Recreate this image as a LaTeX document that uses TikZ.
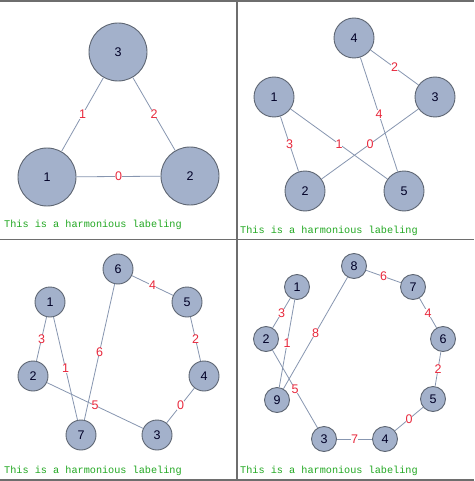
\documentclass[tikz,border=0pt]{standalone}
\usepackage{fontspec}
\setmainfont{Liberation Sans}
\newfontfamily\monof{Liberation Mono}
\definecolor{nodefill}{HTML}{A3B1CB}
\definecolor{nodeborder}{HTML}{5E6673}
\definecolor{edgecol}{HTML}{8796B0}
\definecolor{labred}{HTML}{E8283C}
\definecolor{txtgreen}{HTML}{22A822}
\definecolor{bordergray}{HTML}{6E6E6E}
\begin{document}
\begin{tikzpicture}[x=1pt,y=-1pt,
  vtx/.style={circle, draw=nodeborder, line width=0.9pt, fill=nodefill, minimum size=#1, inner sep=0pt, text=black!85!blue, font=\fontsize{12.5}{12.5}\selectfont},
  edgeline/.style={draw=edgecol, line width=0.8pt},
  elab/.style={midway, fill=white, inner sep=0pt, text=labred, font=\fontsize{12.5}{12.5}\selectfont},
  caption/.style={anchor=west, inner sep=0pt, text=txtgreen, font=\monof\fontsize{10.2}{10.2}\selectfont},
  divider/.style={draw=bordergray, line width=1.5pt}]
\useasboundingbox (0,0) rectangle (474,481);
\fill[white] (0,0) rectangle (474,481);
% frame
\fill[bordergray] (0,0) rectangle (474,2.2);
\fill[bordergray] (0,478.8) rectangle (474,481);
\draw[divider] (237,2) -- (237,479);
\draw[divider] (0,239.5) -- (474,239.5);

% Quadrant 1
\node[vtx=58pt] (a3) at (118,52) {3};
\node[vtx=58pt] (a1) at (47,177) {1};
\node[vtx=58pt] (a2) at (190,176) {2};
\draw[edgeline] (a3) -- node[elab]{1} (a1);
\draw[edgeline] (a3) -- node[elab]{2} (a2);
\draw[edgeline] (a1) -- node[elab]{0} (a2);
\node[caption] (ta) at (4,225) {This is a harmonious labeling};

% Quadrant 2
\node[vtx=40pt] (b4) at (354,38) {4};
\node[vtx=40pt] (b1) at (274,97) {1};
\node[vtx=40pt] (b3) at (435,97) {3};
\node[vtx=40pt] (b2) at (305,191) {2};
\node[vtx=40pt] (b5) at (404,191) {5};
\draw[edgeline] (b4) -- node[elab]{2} (b3);
\draw[edgeline] (b4) -- node[elab]{4} (b5);
\draw[edgeline] (b1) -- node[elab]{3} (b2);
\draw[edgeline] (b1) -- node[elab]{1} (b5);
\draw[edgeline] (b3) -- node[elab]{0} (b2);
\node[caption] (tb) at (240,231) {This is a harmonious labeling};

% Quadrant 3
\node[vtx=30pt] (c6) at (118,269) {6};
\node[vtx=30pt] (c1) at (50,302) {1};
\node[vtx=30pt] (c5) at (187,302) {5};
\node[vtx=30pt] (c2) at (33,376) {2};
\node[vtx=30pt] (c4) at (204,376) {4};
\node[vtx=30pt] (c7) at (81,435) {7};
\node[vtx=30pt] (c3) at (157,435) {3};
\draw[edgeline] (c6) -- node[elab]{4} (c5);
\draw[edgeline] (c5) -- node[elab]{2} (c4);
\draw[edgeline] (c4) -- node[elab]{0} (c3);
\draw[edgeline] (c1) -- node[elab]{3} (c2);
\draw[edgeline] (c1) -- node[elab]{1} (c7);
\draw[edgeline] (c6) -- node[elab]{6} (c7);
\draw[edgeline] (c2) -- node[elab]{5} (c3);
\node[caption] (tc) at (4,471) {This is a harmonious labeling};

% Quadrant 4
\node[vtx=25pt] (d8) at (354,266) {8};
\node[vtx=25pt] (d7) at (413,287) {7};
\node[vtx=25pt] (d1) at (297,287) {1};
\node[vtx=25pt] (d6) at (443,339) {6};
\node[vtx=25pt] (d2) at (266,339) {2};
\node[vtx=25pt] (d9) at (277,400) {9};
\node[vtx=25pt] (d5) at (433,399) {5};
\node[vtx=25pt] (d3) at (324,439) {3};
\node[vtx=25pt] (d4) at (385,439) {4};
\draw[edgeline] (d8) -- node[elab]{6} (d7);
\draw[edgeline] (d7) -- node[elab]{4} (d6);
\draw[edgeline] (d6) -- node[elab]{2} (d5);
\draw[edgeline] (d5) -- node[elab]{0} (d4);
\draw[edgeline] (d4) -- node[elab]{7} (d3);
\draw[edgeline] (d1) -- node[elab]{3} (d2);
\draw[edgeline] (d1) -- node[elab]{1} (d9);
\draw[edgeline] (d8) -- node[elab]{8} (d9);
\draw[edgeline] (d2) -- node[elab]{5} (d3);
\node[caption] (td) at (240,471) {This is a harmonious labeling};
\end{tikzpicture}
\end{document}
